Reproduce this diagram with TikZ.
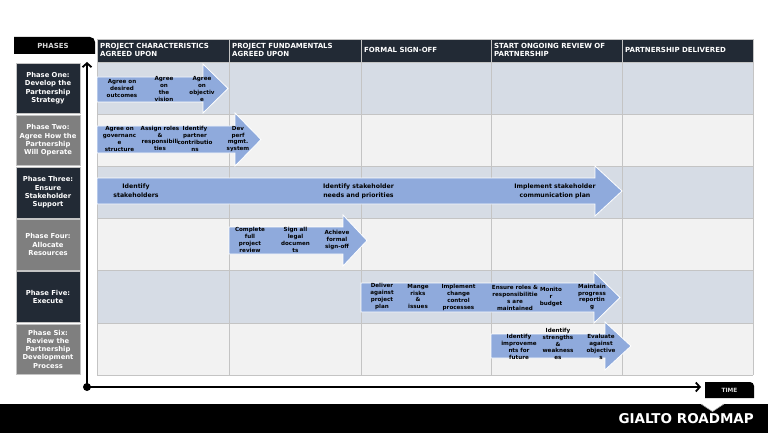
\documentclass[tikz,border=0pt]{standalone}
\usepackage{fontspec}
\setmainfont{DejaVu Sans}
\usetikzlibrary{arrows.meta}
\definecolor{navy}{HTML}{222A35}
\definecolor{phgray}{HTML}{7F7F7F}
\definecolor{rowblue}{HTML}{D6DCE5}
\definecolor{rowgray}{HTML}{F2F2F2}
\definecolor{gridln}{HTML}{C4C4C4}
\definecolor{arrowblue}{HTML}{8FAADC}
\begin{document}
\begin{tikzpicture}[x=1pt,y=-1pt,
  hdr/.style={font=\fontsize{7}{8.7}\selectfont\bfseries, text=white, align=left, anchor=west, inner sep=0pt},
  phase/.style={font=\fontsize{6.8}{8.3}\selectfont\bfseries, text=white, align=center, inner sep=0pt, minimum width=64pt, minimum height=50.6pt, draw=gridln, line width=0.5pt},
  atext/.style={font=\fontsize{5.6}{6.8}\selectfont\bfseries, align=center, inner sep=0pt, text=black},
  btext/.style={font=\fontsize{6.2}{9}\selectfont\bfseries, align=center, inner sep=0pt, text=black},
  blockarrow/.style={fill=arrowblue, draw=white, line width=0.8pt},
  axis/.style={line width=1.8pt, black},
]
\useasboundingbox (0,0) rectangle (768,433);
\fill[white] (0,0) rectangle (768,433);

% header row
\foreach \a/\b in {97/229, 229/361, 361/491, 491/622, 622/753}
  \filldraw[fill=navy, draw=gridln, line width=0.6pt] (\a,39) rectangle (\b,62);
\node[hdr] (h1) at (100,50) {PROJECT CHARACTERISTICS\\AGREED UPON};
\node[hdr] (h2) at (232,50) {PROJECT FUNDAMENTALS\\AGREED UPON};
\node[hdr] (h3) at (364,50) {FORMAL SIGN-OFF};
\node[hdr] (h4) at (494,50) {START ONGOING REVIEW OF\\PARTNERSHIP};
\node[hdr] (h5) at (625,50) {PARTNERSHIP DELIVERED};

% rows
\fill[rowblue] (97,62) rectangle (753,114.2);
\fill[rowgray] (97,114.2) rectangle (753,166.4);
\fill[rowblue] (97,166.4) rectangle (753,218.6);
\fill[rowgray] (97,218.6) rectangle (753,270.8);
\fill[rowblue] (97,270.8) rectangle (753,323);
\fill[rowgray] (97,323) rectangle (753,375.2);
\foreach \y in {62,114.2,166.4,218.6,270.8,323,375.2}
  \draw[gridln, line width=0.8pt] (97,\y) -- (753,\y);
\foreach \x in {97,229,361,491,622,753}
  \draw[gridln, line width=0.8pt] (\x,62) -- (\x,375.2);

% phases header
\fill[black] (14,54) -- (14,37) -- (90,37) arc[start angle=90, end angle=0, radius=5pt] -- (95,54) -- cycle;
\node[font=\fontsize{7}{8}\selectfont\bfseries, text=white!85!black, inner sep=0pt] (phs) at (53,46) {PHASES};

% phase labels
\node[phase, fill=navy] (p1) at (48,88.1) {Phase One:\\Develop the\\Partnership\\Strategy};
\node[phase, fill=phgray] (p2) at (48,140.3) {Phase Two:\\Agree How the\\Partnership\\Will Operate};
\node[phase, fill=navy] (p3) at (48,192.5) {Phase Three:\\Ensure\\Stakeholder\\Support};
\node[phase, fill=phgray] (p4) at (48,244.7) {Phase Four:\\Allocate\\Resources};
\node[phase, fill=navy] (p5) at (48,296.9) {Phase Five:\\Execute};
\node[phase, fill=phgray] (p6) at (48,349.1) {Phase Six:\\Review the\\Partnership\\Development\\Process};

% block arrows
\filldraw[blockarrow] (97,77) -- (203,77) -- (203,64) -- (228,88.5) -- (203,113) -- (203,102) -- (97,102) -- cycle;
\filldraw[blockarrow] (97,126) -- (235,126) -- (235,113) -- (261,139.5) -- (235,166) -- (235,153) -- (97,153) -- cycle;
\filldraw[blockarrow] (97,178) -- (595,178) -- (595,166) -- (622,191) -- (595,216) -- (595,204) -- (97,204) -- cycle;
\filldraw[blockarrow] (229,227) -- (343,227) -- (343,215) -- (367,240.5) -- (343,266) -- (343,254) -- (229,254) -- cycle;
\filldraw[blockarrow] (361,283) -- (594,283) -- (594,272) -- (620,297.5) -- (594,323) -- (594,312) -- (361,312) -- cycle;
\filldraw[blockarrow] (491,334) -- (605,334) -- (605,322) -- (631,346) -- (605,370) -- (605,358) -- (491,358) -- cycle;

% arrow texts
\node[atext] (t11) at (122,88.5) {Agree on\\desired\\outcomes};
\node[atext] (t12) at (164,89) {Agree\\on\\the\\vision};
\node[atext] (t13) at (202,89) {Agree\\on\\objectiv\\e};

\node[atext] (t21) at (119.5,139) {Agree on\\governanc\\e\\structure};
\node[atext] (t22) at (160,138.5) {Assign roles\\\&\\responsibili\\ties};
\node[atext] (t23) at (195,139) {Identify\\partner\\contributio\\ns};
\node[atext] (t24) at (238,139) {Dev\\perf\\mgmt.\\system};

\node[btext] (t31) at (136,190.5) {Identify\\stakeholders};
\node[btext] (t32) at (358.5,191) {Identify stakeholder\\needs and priorities};
\node[btext] (t33) at (555,191) {Implement stakeholder\\communication plan};

\node[atext] (t41) at (250,240) {Complete\\full\\project\\review};
\node[atext] (t42) at (295.5,240) {Sign all\\legal\\documen\\ts};
\node[atext] (t43) at (337,240) {Achieve\\formal\\sign-off};

\node[atext] (t51) at (382,296.5) {Deliver\\against\\project\\plan};
\node[atext] (t52) at (418,296.5) {Mange\\risks\\\&\\issues};
\node[atext] (t53) at (458.5,297.5) {Implement\\change\\control\\processes};
\node[atext] (t54) at (515,298) {Ensure roles \&\\responsibilitie\\s are\\maintained};
\node[atext] (t55) at (551,297) {Monito\\r\\budget};
\node[atext] (t56) at (592,297) {Maintain\\progress\\reportin\\g};

\node[atext] (t61) at (519,347) {Identify\\improveme\\nts for\\future};
\node[atext] (t62) at (558,344) {Identify\\strengths\\\&\\weakness\\es};
\node[atext] (t63) at (601,347) {Evaluate\\against\\objective\\s};

% axes
\node[circle, fill=black, inner sep=0pt, minimum size=8pt] (origin) at (87,387) {};
\coordinate (ytop) at (87,62);
\coordinate (xend) at (701,387);
\draw[axis, -{Straight Barb[length=4pt,width=9pt]}] (origin.center) -- (ytop);
\draw[axis, -{Straight Barb[length=4pt,width=9pt]}] (origin.center) -- (xend);

% time box
\fill[black] (705,398) -- (705,382) -- (750,382) arc[start angle=90, end angle=0, radius=4pt] -- (754,398) -- cycle;
\node[font=\fontsize{5.8}{7}\selectfont\bfseries, text=white!85!black, inner sep=0pt] (time) at (729.5,390) {TIME};

% bottom bar
\fill[black] (0,404) rectangle (768,433);
\fill[white] (701,403.6) -- (712.5,411.5) -- (724,403.6) -- cycle;
\draw[gray!60, line width=0.6pt] (701,404) -- (712.5,411.5) -- (724,404);
\node[anchor=east, text=white, inner sep=0pt, font=\fontsize{13.5}{16}\selectfont\bfseries] (title) at (754,419) {GIALTO ROADMAP};
\end{tikzpicture}
\end{document}
